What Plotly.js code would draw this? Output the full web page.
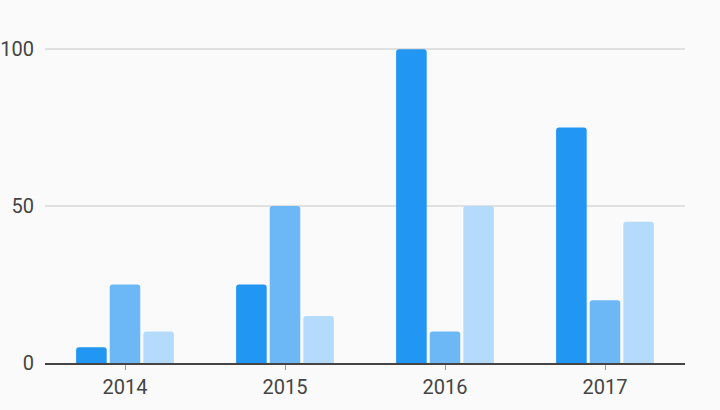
<!DOCTYPE html>
<html>
<head>
<meta charset="utf-8">
<script src="https://cdn.plot.ly/plotly-3.0.1.min.js"></script>
<style>
  html, body { margin: 0; padding: 0; background: #fafafa; }
  #chart { width: 720px; height: 410px; }
</style>
</head>
<body>
<div id="chart"></div>
<script>
const years = ["2014", "2015", "2016", "2017"];
const seriesA = [5, 25, 100, 75];
const seriesB = [25, 50, 10, 20];
const seriesC = [10, 15, 50, 45];
const yTicks = [0, 50, 100];

const COLORS = ["#2196F3", "#6CB8F7", "#B4DBFC"];

function barTrace(y, color) {
  return {
    x: years,
    y,
    type: "bar",
    marker: { color, cornerradius: 3 },
    hoverinfo: "skip",
  };
}

Plotly.newPlot("chart", [
  barTrace(seriesA, COLORS[0]),
  barTrace(seriesB, COLORS[1]),
  barTrace(seriesC, COLORS[2]),
], {
  width: 720,
  height: 410,
  margin: { l: 45, r: 35, t: 46, b: 47 },
  paper_bgcolor: "#fafafa",
  plot_bgcolor: "#fafafa",
  font: { family: "Roboto, sans-serif", size: 20, color: "#444" },
  showlegend: false,
  barmode: "group",
  bargap: 0.37,
  bargroupgap: 0.09,
  xaxis: {
    type: "category",
    showgrid: false,
    showline: true,
    linecolor: "#444",
    linewidth: 1.5,
    ticks: "outside",
    ticklen: 5,
    tickcolor: "#999",
    zeroline: false,
  },
  yaxis: {
    range: [0, 101],
    tickvals: yTicks,
    gridcolor: "#e0e0e0",
    gridwidth: 1.5,
    zeroline: false,
    ticklabelstandoff: 10,
  },
}, { displayModeBar: false, staticPlot: true });
</script>
</body>
</html>
